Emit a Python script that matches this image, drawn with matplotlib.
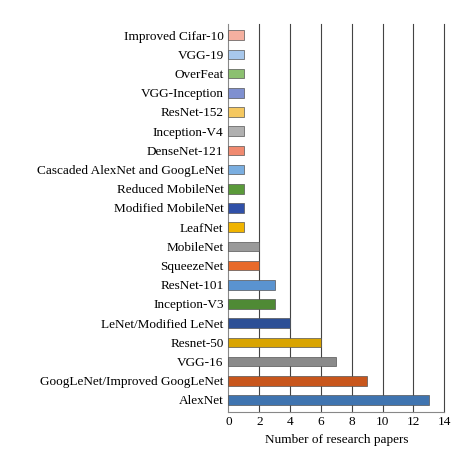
import matplotlib
matplotlib.use("Agg")
import matplotlib.pyplot as plt

categories = ["AlexNet","GoogLeNet/Improved GoogLeNet","VGG-16","Resnet-50","LeNet/Modified LeNet",
              "Inception-V3","ResNet-101","SqueezeNet","MobileNet","LeafNet","Modified MobileNet",
              "Reduced MobileNet","Cascaded AlexNet and GoogLeNet","DenseNet-121","Inception-V4",
              "ResNet-152","VGG-Inception","OverFeat","VGG-19","Improved Cifar-10"]
values = [13,9,7,6,4,3,3,2,2,1,1,1,1,1,1,1,1,1,1,1]
colors = ["#3f74b0","#c8561c","#8a8a8a","#d9a400","#2c4f96","#4f8a35","#5a93d0","#e86a2a","#9a9a9a",
          "#f0b400","#3050a8","#5a9a3a","#7aaee0","#f08a70","#b0b0b0","#f5c860","#7f90d0","#8cc070",
          "#a8c8ec","#f5b0a0"]

plt.rcParams['font.family'] = ['Liberation Serif', 'DejaVu Serif']
fig = plt.figure(figsize=(4.74,4.73), dpi=100)
ax = fig.add_axes([0.482, 0.13, 0.455, 0.82])
y = range(len(categories))
ax.barh(y, values, height=0.5, color=colors, edgecolor="#555555", linewidth=0.5, zorder=3)
ax.set_yticks(list(y))
ax.set_yticklabels(categories, fontsize=9.5)
ax.set_xlim(0,14)
ax.set_ylim(-0.6, len(categories)-0.4)
ax.set_xticks(range(0,15,2))
ax.tick_params(axis='x', labelsize=9.5, length=0)
ax.tick_params(axis='y', length=0)
for gl in range(2, 15, 2):
    ax.axvline(gl, color="#444444", linewidth=0.8, zorder=0, clip_on=False)
for s in ["top","right"]:
    ax.spines[s].set_visible(False)
ax.spines["left"].set_color("#888888")
ax.spines["bottom"].set_color("#888888")
ax.set_xlabel("Number of research papers", fontsize=9.5)
fig.savefig("out.png", dpi=100)
